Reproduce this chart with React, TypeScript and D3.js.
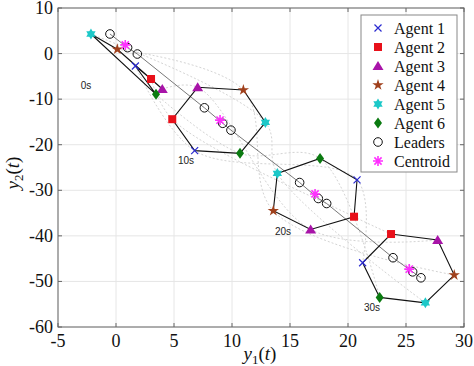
import React from 'react'
import * as d3 from 'd3'

// snapshots at 0s, 10s, 20s, 30s
const agent1X = [1.67, 6.78, 20.78, 21.26]
const agent1Y = [-2.73, -21.3, -27.7, -45.9]
const agent2X = [3.02, 4.85, 20.52, 23.71]
const agent2Y = [-5.58, -14.4, -35.8, -39.6]
const agent3X = [3.99, 7.04, 16.78, 27.73]
const agent3Y = [-7.78, -7.4, -38.6, -40.9]
const agent4X = [0.11, 10.98, 13.56, 29.16]
const agent4Y = [0.94, -8.0, -34.5, -48.6]
const agent5X = [-2.16, 12.88, 13.91, 26.67]
const agent5Y = [4.3, -15.1, -26.3, -54.7]
const agent6X = [3.45, 10.69, 17.59, 22.73]
const agent6Y = [-8.94, -21.9, -23.0, -53.5]

const leadersX = [-0.52, 1.0, 1.84, 7.62, 9.2, 9.91, 15.83, 17.44, 18.16, 23.88, 25.57, 26.29]
const leadersY = [4.3, 1.3, -0.1, -11.9, -15.3, -16.8, -28.3, -31.8, -32.9, -44.8, -47.9, -49.2]
const centroidX = [0.8, 8.97, 17.16, 25.28]
const centroidY = [1.9, -14.6, -30.8, -47.3]

const timeLabels = ['0s', '10s', '20s', '30s']
const timeLabelX = [-2.59, 6.03, 14.4, 22.07]
const timeLabelY = [-7.1, -23.6, -39.2, -56.0]

const xTicks = [-5, 0, 5, 10, 15, 20, 25, 30]
const yTicks = [10, 0, -10, -20, -30, -40, -50, -60]

const legendNames = ['Agent 1', 'Agent 2', 'Agent 3', 'Agent 4', 'Agent 5', 'Agent 6', 'Leaders', 'Centroid']

const agents = [
  {x: agent1X, y: agent1Y, kind: 'x', color: '#2a2ad0'},
  {x: agent2X, y: agent2Y, kind: 'square', color: '#e8101a'},
  {x: agent3X, y: agent3Y, kind: 'triangle', color: '#a814a8'},
  {x: agent4X, y: agent4Y, kind: 'star', color: '#a0401c'},
  {x: agent5X, y: agent5Y, kind: 'hexagram', color: '#1cc8c8'},
  {x: agent6X, y: agent6Y, kind: 'diamond', color: '#0a7a10'},
]

const Marker = ({kind, color, cx, cy}: {kind: string; color: string; cx: number; cy: number}) => {
  const t = `translate(${cx},${cy})`
  if (kind === 'x') {
    return <path transform={t} d="M-3.5,-3.5L3.5,3.5M-3.5,3.5L3.5,-3.5" stroke={color} strokeWidth={1.2} />
  }
  if (kind === 'square') return <rect x={cx - 4} y={cy - 4} width={8} height={8} fill={color} />
  if (kind === 'triangle') return <path transform={t} d="M0,-5L5.5,4L-5.5,4Z" fill={color} />
  if (kind === 'diamond') return <path transform={t} d="M0,-5.5L4,0L0,5.5L-4,0Z" fill={color} />
  if (kind === 'star') return <path transform={t} d={d3.symbol(d3.symbolStar, 40)() || ''} fill={color} />
  if (kind === 'hexagram') {
    return (
      <g transform={t} fill={color}>
        <path d="M0,-5.5L4.7,2.7L-4.7,2.7Z" />
        <path d="M0,5.5L4.7,-2.7L-4.7,-2.7Z" />
      </g>
    )
  }
  if (kind === 'circle') return <circle cx={cx} cy={cy} r={4.3} fill="none" stroke="#111" strokeWidth={1} />
  if (kind === 'asterisk') {
    return (
      <path
        transform={t}
        d="M-5,0L5,0M0,-5L0,5M-3.6,-3.6L3.6,3.6M-3.6,3.6L3.6,-3.6"
        stroke="#ff30ff"
        strokeWidth={1.6}
      />
    )
  }
  return null
}

const App = () => {
  const width = 474
  const height = 366
  const x = d3.scaleLinear().domain([-5, 30]).range([58, 464])
  const y = d3.scaleLinear().domain([-60, 10]).range([327, 8])

  const traj = d3
    .line<[number, number]>()
    .x(d => x(d[0]))
    .y(d => y(d[1]))
    .curve(d3.curveCatmullRom.alpha(0.5))
  const straight = d3
    .line<[number, number]>()
    .x(d => x(d[0]))
    .y(d => y(d[1]))

  const hexagons = timeLabels.map((_, t) => {
    const pts = agents.map(a => [a.x[t], a.y[t]] as [number, number])
    return straight.curve(d3.curveLinearClosed)(pts) || ''
  })
  const leaderPts = leadersX.map((v, i) => [v, leadersY[i]] as [number, number])

  const legendKinds = ['x', 'square', 'triangle', 'star', 'hexagram', 'diamond', 'circle', 'asterisk']
  const legendColors = agents.map(a => a.color).concat(['#111', '#ff30ff'])

  return (
    <svg width={width} height={height} style={{position: 'absolute', left: 0, top: 0, background: '#fff'}}>
      {/* grid */}
      {xTicks.map(t => (
        <line key={'gx' + t} x1={x(t)} x2={x(t)} y1={y(10)} y2={y(-60)} stroke="#e6e6e6" strokeWidth={1} />
      ))}
      {yTicks.map(t => (
        <line key={'gy' + t} x1={x(-5)} x2={x(30)} y1={y(t)} y2={y(t)} stroke="#e6e6e6" strokeWidth={1} />
      ))}

      {/* faint trajectories */}
      {agents.map((a, i) => (
        <path
          key={'tr' + i}
          d={traj(a.x.map((v, j) => [v, a.y[j]] as [number, number])) || ''}
          fill="none"
          stroke="#d4d4d4"
          strokeWidth={1}
          strokeDasharray="2,2"
        />
      ))}

      {/* leader path */}
      <path d={straight.curve(d3.curveLinear)(leaderPts) || ''} fill="none" stroke="#555" strokeWidth={0.8} />

      {/* formations */}
      {hexagons.map((d, i) => (
        <path key={'hx' + i} d={d} fill="none" stroke="#111" strokeWidth={1.1} />
      ))}

      {leaderPts.map((p, i) => (
        <Marker key={'ld' + i} kind="circle" color="#111" cx={x(p[0])} cy={y(p[1])} />
      ))}
      {agents.map((a, i) =>
        a.x.map((v, j) => <Marker key={`ag${i}-${j}`} kind={a.kind} color={a.color} cx={x(v)} cy={y(a.y[j])} />)
      )}
      {centroidX.map((v, i) => (
        <Marker key={'ce' + i} kind="asterisk" color="#ff30ff" cx={x(v)} cy={y(centroidY[i])} />
      ))}

      {timeLabels.map((s, i) => (
        <text
          key={s}
          x={x(timeLabelX[i])}
          y={y(timeLabelY[i])}
          textAnchor="middle"
          dominantBaseline="middle"
          fontFamily="Liberation Sans, Arial, sans-serif"
          fontSize={10}
          fill="#222"
        >
          {s}
        </text>
      ))}

      {/* axes box and ticks */}
      <rect x={x(-5)} y={y(10)} width={x(30) - x(-5)} height={y(-60) - y(10)} fill="none" stroke="#666" strokeWidth={1} />
      {xTicks.map(t => (
        <g key={'tx' + t}>
          <line x1={x(t)} x2={x(t)} y1={y(-60)} y2={y(-60) - 4} stroke="#666" />
          <line x1={x(t)} x2={x(t)} y1={y(10)} y2={y(10) + 4} stroke="#666" />
          <text
            x={x(t)}
            y={347}
            textAnchor="middle"
            fontFamily="Liberation Serif, Times New Roman, serif"
            fontSize={18}
            fill="#111"
          >
            {t}
          </text>
        </g>
      ))}
      {yTicks.map(t => (
        <g key={'ty' + t}>
          <line x1={x(-5)} x2={x(-5) + 4} y1={y(t)} y2={y(t)} stroke="#666" />
          <line x1={x(30)} x2={x(30) - 4} y1={y(t)} y2={y(t)} stroke="#666" />
          <text
            x={53}
            y={y(t) + 6}
            textAnchor="end"
            fontFamily="Liberation Serif, Times New Roman, serif"
            fontSize={18}
            fill="#111"
          >
            {t}
          </text>
        </g>
      ))}

      {/* axis labels */}
      <text x={260} y={360} textAnchor="middle" fontFamily="Liberation Serif, serif" fontSize={19} fontStyle="italic" fill="#111">
        y<tspan fontSize={13} fontStyle="normal" dy={4}>1</tspan>
        <tspan dy={-4} fontStyle="normal">(</tspan>t<tspan fontStyle="normal">)</tspan>
      </text>
      <text
        transform="translate(19,173) rotate(-90)"
        textAnchor="middle"
        fontFamily="Liberation Serif, serif"
        fontSize={19}
        fontStyle="italic"
        fill="#111"
      >
        y<tspan fontSize={13} fontStyle="normal" dy={4}>2</tspan>
        <tspan dy={-4} fontStyle="normal">(</tspan>t<tspan fontStyle="normal">)</tspan>
      </text>

      {/* legend */}
      <g>
        <rect x={361} y={15} width={96} height={157} fill="#fff" stroke="#888" strokeWidth={1} />
        {legendNames.map((name, i) => {
          const ly = 28 + i * 19
          return (
            <g key={name}>
              <Marker kind={legendKinds[i]} color={legendColors[i]} cx={378} cy={ly} />
              <text
                x={394}
                y={ly}
                dominantBaseline="central"
                fontFamily="Liberation Serif, Times New Roman, serif"
                fontSize={16}
                fill="#111"
              >
                {name}
              </text>
            </g>
          )
        })}
      </g>
    </svg>
  )
}

export default App
